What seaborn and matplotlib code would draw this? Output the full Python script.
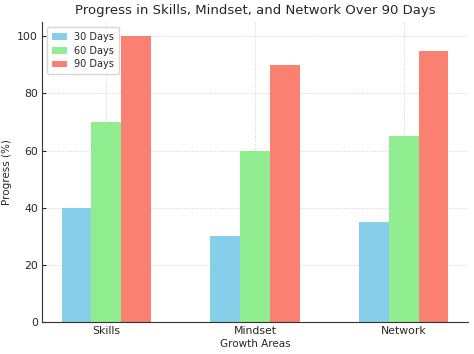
import matplotlib
matplotlib.use("Agg")
import matplotlib.pyplot as plt
import seaborn as sns
import pandas as pd

areas = ['Skills', 'Mindset', 'Network']
periods = ['30 Days', '60 Days', '90 Days']
days30 = [40, 30, 35]
days60 = [70, 60, 65]
days90 = [100, 90, 95]
colors = ['skyblue', 'lightgreen', 'salmon']

rows = []
for period, vals in zip(periods, [days30, days60, days90]):
  for area, v in zip(areas, vals):
    rows.append({'Growth Areas': area, 'Period': period, 'Progress': v})
df = pd.DataFrame(rows)

sns.set_style('ticks')
fig, ax = plt.subplots(figsize=(4.74, 3.54), dpi=100)

bp = sns.barplot(
  data=df,
  x='Growth Areas',
  y='Progress',
  hue='Period',
  palette=colors,
  saturation=1,
  width=0.6,
  errorbar=None,
  linewidth=0,
  ax=ax
)

bp.set_xlim(-0.43, 2.43)
bp.set_ylim(0, 105)
bp.set_title('Progress in Skills, Mindset, and Network Over 90 Days', fontsize=9.5, pad=6)
bp.set_xlabel('Growth Areas', fontsize=7.5, labelpad=2)
bp.set_ylabel('Progress (%)', fontsize=7.5, labelpad=4)
bp.tick_params(labelsize=7.8, length=3, direction='in', pad=3)
bp.grid(True, linestyle=':', color='#d0d0d0', linewidth=0.7)
bp.set_axisbelow(True)
sns.despine(ax=bp)
for s in ['left', 'bottom']:
  bp.spines[s].set_color('#333333')

bp.legend(loc='upper left', fontsize=7, title=None, frameon=True,
          handlelength=1.6, handletextpad=0.7, borderpad=0.5, labelspacing=0.4)

fig.subplots_adjust(left=0.089, right=0.987, bottom=0.09, top=0.938)
plt.savefig('out.png', dpi=100)
plt.close()
